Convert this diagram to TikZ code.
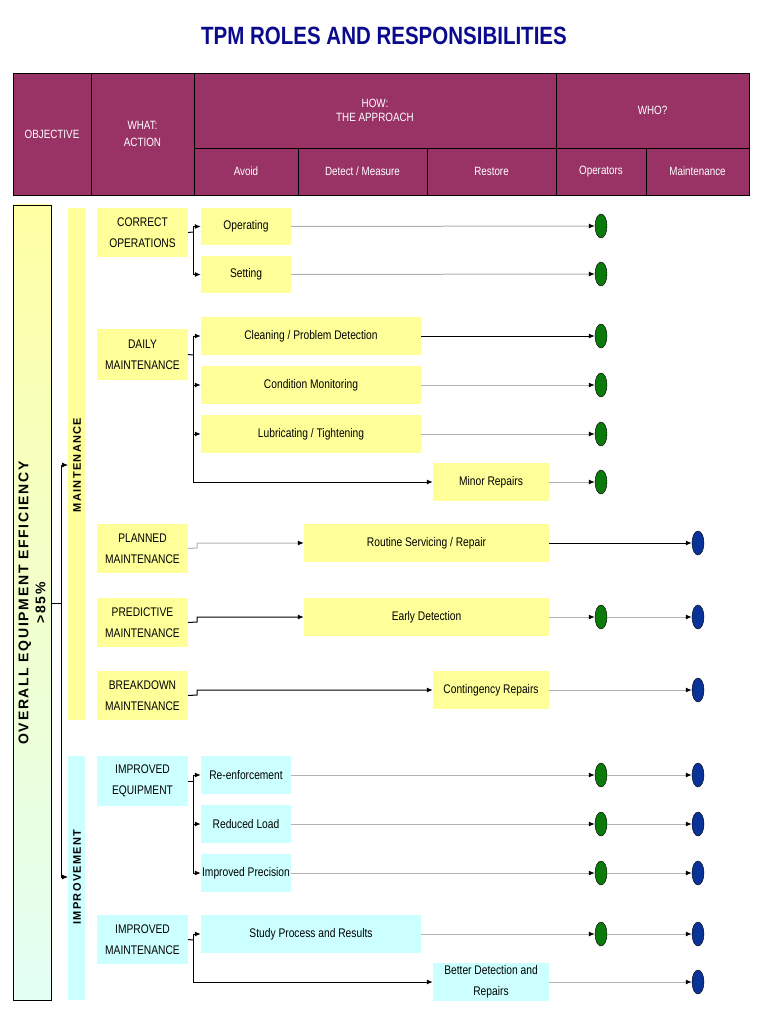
\documentclass[tikz,border=0pt]{standalone}
\usepackage{fontspec}
\setmainfont{Liberation Sans}[FakeStretch=0.82]
\newfontfamily\wide{Liberation Sans}[LetterSpace=12]
\usetikzlibrary{arrows.meta,shapes.geometric}
\definecolor{plum}{HTML}{993366}
\definecolor{yel}{HTML}{FFFF99}
\definecolor{cy}{HTML}{CCFFFF}
\definecolor{ttl}{HTML}{0A0A8C}
\definecolor{grn}{HTML}{0A7A0A}
\definecolor{blu}{HTML}{0A3399}
\begin{document}
\begin{tikzpicture}[x=1pt,y=-1pt,
 hd/.style={draw=black,fill=plum,text=white,font=\fontsize{12}{14}\selectfont,align=center,inner sep=0,line width=0.8pt},
 yb/.style={fill=yel,inner sep=0,font=\fontsize{12.5}{21}\selectfont,align=center},
 cb/.style={fill=cy,inner sep=0,font=\fontsize{12.5}{21}\selectfont,align=center},
 gd/.style={ellipse,draw=black,fill=grn,minimum width=12pt,minimum height=24pt,inner sep=0,line width=0.4pt},
 bd/.style={ellipse,draw=black,fill=blu,minimum width=12pt,minimum height=24pt,inner sep=0,line width=0.4pt},
 bk/.style={draw=black,line width=1pt,-{Latex[length=6pt,width=5pt]}},
 gr/.style={draw=black!30,line width=1pt,-{Latex[length=6pt,width=5pt,color=black]}},
 bl/.style={draw=black,line width=1pt},
 gl/.style={draw=black!30,line width=1pt}]
\useasboundingbox (0,0) rectangle (768,1024);
\newcommand\bx[7]{\node[#1,minimum width=#4-#3,minimum height=#6-#5] (#2) at ({(#3+#4)/2},{(#5+#6)/2}) {#7};}
% title
\node[text=ttl,font=\fontsize{25}{28}\selectfont\bfseries] (title) at (384,36) {TPM ROLES AND RESPONSIBILITIES};
% header
\bx{hd}{hobj}{13}{91}{73}{195}{OBJECTIVE}
\bx{hd}{hwhat}{91}{194}{73}{195}{WHAT:\\[3pt]ACTION}
\bx{hd}{hhow}{194}{556}{73}{148}{HOW:\\THE APPROACH}
\bx{hd}{hwho}{556}{749}{73}{148}{WHO?}
\bx{hd}{havoid}{194}{298}{148}{195}{Avoid}
\bx{hd}{hdet}{298}{427}{148}{195}{Detect / Measure}
\bx{hd}{hres}{427}{556}{148}{195}{Restore}
\bx{hd}{hop}{556}{646}{148}{195}{Operators}
\bx{hd}{hmt}{646}{749}{148}{195}{Maintenance}
% OEE
\shade[top color=yel!90,bottom color=cy!90!green!40,draw=black,line width=0.8pt] (13,205) rectangle (51,1000);
\node (oee) at (32,603) {};
\node[rotate=90,font=\fontsize{14}{17}\selectfont\wide\bfseries,align=center] (oeet) at (32,603) {OVERALL EQUIPMENT EFFICIENCY\\>85\%};
\bx{fill=yel,inner sep=0}{mb}{68}{85}{208}{720}{}
\bx{fill=cy,inner sep=0}{ib}{68}{85}{756}{1000}{}
\node[rotate=90,font=\fontsize{11}{13}\selectfont\wide\bfseries] (mt) at (77,465) {MAINTENANCE};
\node[rotate=90,font=\fontsize{11}{13}\selectfont\wide\bfseries] (it) at (77,877) {IMPROVEMENT};
\coordinate (oeeR) at (51,603);
\coordinate (mIn) at (68,465);
\coordinate (iIn) at (68,877);
\draw[bl] (oeeR) -- (61,603);
\draw[bk,line width=0.8pt] (61,603) |- (mIn);
\draw[bk,line width=0.8pt] (61,603) |- (iIn);
% left boxes
\bx{yb}{co}{97}{188}{208}{257}{CORRECT\\OPERATIONS}
\bx{yb}{dm}{97}{188}{329}{380}{DAILY\\MAINTENANCE}
\bx{yb}{pm}{97}{188}{524}{573}{PLANNED\\MAINTENANCE}
\bx{yb}{pr}{97}{188}{598}{647}{PREDICTIVE\\MAINTENANCE}
\bx{yb}{bm}{97}{188}{671}{720}{BREAKDOWN\\MAINTENANCE}
\bx{cb}{ie}{97}{188}{756}{806}{IMPROVED\\EQUIPMENT}
\bx{cb}{im}{97}{188}{915}{964}{IMPROVED\\MAINTENANCE}
% action boxes
\bx{yb}{op}{201}{291}{208}{245}{Operating}
\bx{yb}{se}{201}{291}{256}{293}{Setting}
\bx{yb}{cl}{201}{421}{317}{355}{Cleaning / Problem Detection}
\bx{yb}{cm}{201}{421}{366}{404}{Condition Monitoring}
\bx{yb}{lu}{201}{421}{415}{453}{Lubricating / Tightening}
\bx{yb}{mr}{433}{549}{463}{501}{Minor Repairs}
\bx{yb}{rs}{304}{549}{524}{562}{Routine Servicing / Repair}
\bx{yb}{ed}{304}{549}{598}{636}{Early Detection}
\bx{yb}{cr}{433}{549}{671}{709}{Contingency Repairs}
\bx{cb}{re}{201}{291}{756}{794}{Re-enforcement}
\bx{cb}{rl}{201}{291}{805}{843}{Reduced Load}
\bx{cb}{ip}{201}{291}{854}{892}{Improved Precision}
\bx{cb}{sp}{201}{421}{915}{953}{Study Process and Results}
\bx{cb}{bt}{433}{549}{963}{1001}{\fontsize{12.5}{20}\selectfont Better Detection and\\Repairs}
% dots
\foreach \n/\y in {g1/226,g2/274,g3/336,g4/385,g5/434,g6/482,g7/617,g8/775,g9/824,g10/873,g11/934}
  \node[gd] (\n) at (601,\y) {};
\foreach \n/\y in {b1/543,b2/617,b3/690,b4/775,b5/824,b6/873,b7/934,b8/982}
  \node[bd] (\n) at (698,\y) {};
% branch connectors
\draw[bl] (co.east) -- (193,232);
\draw[bk] (193,232) |- (op.west);
\draw[bk] (193,232) |- (se.west);
\draw[bl] (dm.east) -- (193,355);
\draw[bk] (193,355) |- (cl.west);
\draw[bk] (193,355) |- (cm.west);
\draw[bk] (193,355) |- (lu.west);
\draw[bk] (193,355) |- (mr.west);
\draw[gr] (pm.east) -- (197,548) |- (rs.west);
\draw[bk] (pr.east) -- (197,622) |- (ed.west);
\draw[bk] (bm.east) -- (197,695) |- (cr.west);
\draw[bl] (ie.east) -- (193,781);
\draw[bk] (193,781) |- (re.west);
\draw[bk] (193,781) |- (rl.west);
\draw[bk] (193,781) |- (ip.west);
\draw[bl] (im.east) -- (193,940);
\draw[bk] (193,940) |- (sp.west);
\draw[bk] (193,940) |- (bt.west);
% right connectors
\draw[gr] (op.east) -- (g1.west);
\draw[gr] (se.east) -- (g2.west);
\draw[bk] (cl.east) -- (g3.west);
\draw[gr] (cm.east) -- (g4.west);
\draw[gr] (lu.east) -- (g5.west);
\draw[gr] (mr.east) -- (g6.west);
\draw[bk] (rs.east) -- (b1.west);
\draw[gr] (ed.east) -- (g7.west);
\draw[gr] (g7.east) -- (b2.west);
\draw[gr] (cr.east) -- (b3.west);
\draw[gr] (re.east) -- (g8.west);
\draw[gr] (g8.east) -- (b4.west);
\draw[gr] (rl.east) -- (g9.west);
\draw[gr] (g9.east) -- (b5.west);
\draw[gr] (ip.east) -- (g10.west);
\draw[gr] (g10.east) -- (b6.west);
\draw[gr] (sp.east) -- (g11.west);
\draw[gr] (g11.east) -- (b7.west);
\draw[gr] (bt.east) -- (b8.west);
\end{tikzpicture}
\end{document}
